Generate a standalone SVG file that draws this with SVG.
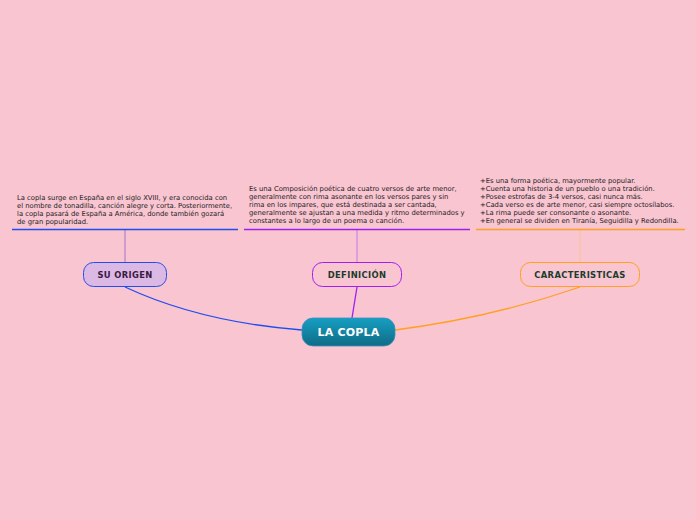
<svg xmlns="http://www.w3.org/2000/svg" width="696" height="520" viewBox="0 0 696 520">
<defs>
<linearGradient id="g" x1="0" y1="0" x2="0" y2="1"><stop offset="0" stop-color="#169fc3"/><stop offset="1" stop-color="#0f6b85"/></linearGradient>
<style>
.t{font-family:"DejaVu Sans",Verdana,sans-serif;font-size:6.8px;fill:#222}
.n{font-family:"DejaVu Sans",Verdana,sans-serif;font-size:8.4px;font-weight:bold;text-anchor:middle;letter-spacing:0.35px}
.c{fill:none;stroke-width:1.3}
</style>
</defs>
<rect width="696" height="520" fill="#f9c5d1"/>
<g id="connectors">
<path class="c" stroke="#1f4ef0" d="M125,287 Q200,322 302,330"/>
<path class="c" stroke="#a01ff0" d="M357,287 L352,318"/>
<path class="c" stroke="#ffa020" d="M580,287 Q490,318 395,330"/>
<line x1="125" y1="230" x2="125" y2="262" stroke="#8a5fd0" stroke-width="0.8"/>
<line x1="357" y1="230" x2="357" y2="262" stroke="#c060f0" stroke-width="0.8"/>
<line x1="580" y1="230" x2="580" y2="262" stroke="#ffc080" stroke-width="0.8"/>
</g>
<g id="origen-text">
<text class="t" x="17" y="200">La copla surge en España en el siglo XVIII, y era conocida con</text>
<text class="t" x="17" y="208">el nombre de tonadilla, canción alegre y corta. Posteriormente,</text>
<text class="t" x="17" y="216">la copla pasará de España a América, donde también gozará</text>
<text class="t" x="17" y="224">de gran popularidad.</text>
<line x1="12" y1="229.5" x2="238" y2="229.5" stroke="#1f4ef0" stroke-width="1.6"/>
</g>
<g id="definicion-text">
<text class="t" x="249" y="191">Es una Composición poética de cuatro versos de arte menor,</text>
<text class="t" x="249" y="199">generalmente con rima asonante en los versos pares y sin</text>
<text class="t" x="249" y="207">rima en los impares, que está destinada a ser cantada,</text>
<text class="t" x="249" y="215">generalmente se ajustan a una medida y ritmo determinados y</text>
<text class="t" x="249" y="223">constantes a lo largo de un poema o canción.</text>
<line x1="244" y1="229.5" x2="470" y2="229.5" stroke="#a01ff0" stroke-width="1.6"/>
</g>
<g id="caracteristicas-text">
<text class="t" x="480" y="183">+Es una forma poética, mayormente popular.</text>
<text class="t" x="480" y="191">+Cuenta una historia de un pueblo o una tradición.</text>
<text class="t" x="480" y="199">+Posee estrofas de 3-4 versos, casi nunca más.</text>
<text class="t" x="480" y="207">+Cada verso es de arte menor, casi siempre octosílabos.</text>
<text class="t" x="480" y="215">+La rima puede ser consonante o asonante.</text>
<text class="t" x="480" y="223">+En general se dividen en Tiranía, Seguidilla y Redondilla.</text>
<line x1="476" y1="229.5" x2="685" y2="229.5" stroke="#ffa020" stroke-width="1.6"/>
</g>
<g id="su-origen">
<rect x="83.5" y="262.5" width="83" height="24" rx="10" fill="#dcb8e4" stroke="#1f4ef0"/>
<text class="n" x="125" y="277.5" fill="#3a1a40">SU ORIGEN</text>
</g>
<g id="definicion">
<rect x="312.5" y="262.5" width="89" height="24" rx="10" fill="#f9c5d1" stroke="#a01ff0"/>
<text class="n" x="357" y="277.5" fill="#1a3d2e">DEFINICIÓN</text>
</g>
<g id="caracteristicas">
<rect x="520.5" y="262.5" width="119" height="24" rx="10" fill="#f9c5d1" stroke="#ffa020"/>
<text class="n" x="580" y="277.5" fill="#1a3d2e">CARACTERISTICAS</text>
</g>
<g id="la-copla">
<rect x="302" y="318" width="93" height="28" rx="11" fill="url(#g)" stroke="#3a8fc0" stroke-width="0.8"/>
<text class="n" x="348.5" y="336" fill="#ffffff" style="font-size:11px;letter-spacing:0.2px">LA COPLA</text>
</g>
</svg>
